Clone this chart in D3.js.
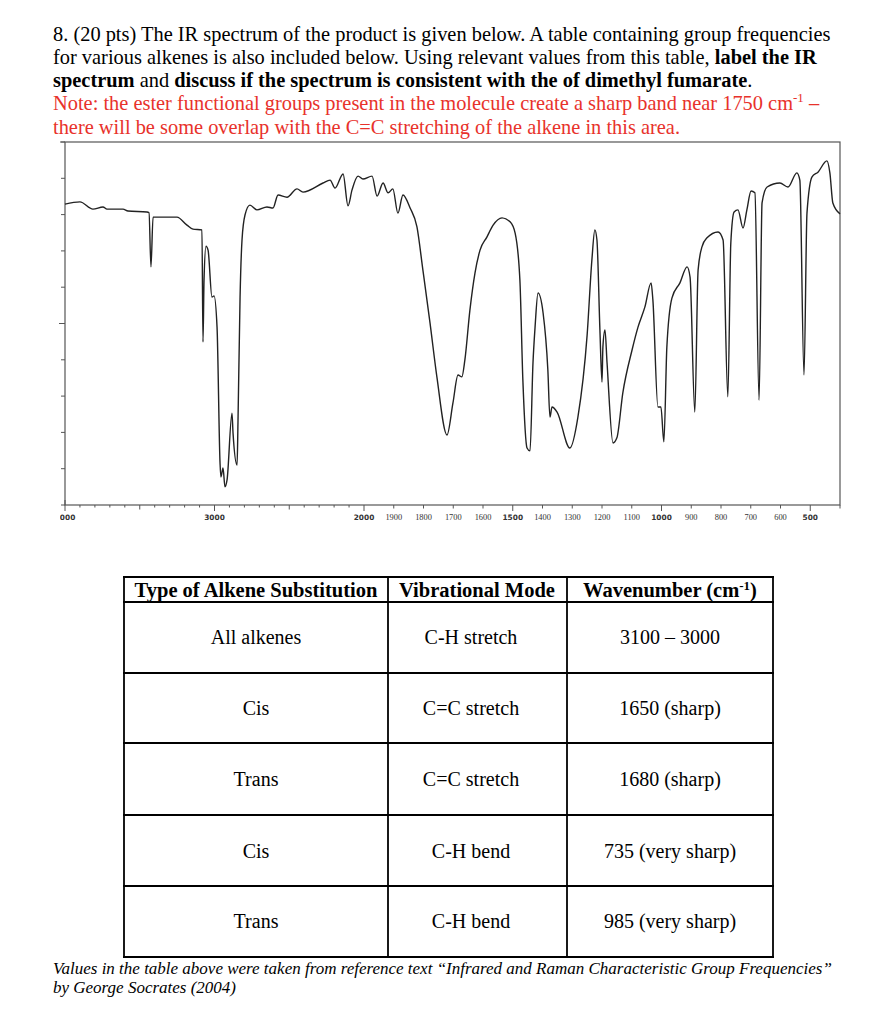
<!DOCTYPE html>
<html>
<head>
<meta charset="utf-8">
<script src="https://cdn.jsdelivr.net/npm/d3@7"></script>
<style>
  body { margin: 0; background: #fff; }
  text { font-family: "Liberation Serif", "Times New Roman", serif; }
</style>
</head>
<body>
<svg id="chart" width="872" height="1024"></svg>
<script>
// question text, one array of [text, bold] pieces per line
var questionLines = [
    [["8. (20 pts) The IR spectrum of the product is given below. A table containing group frequencies", false]],
    [["for various alkenes is also included below. Using relevant values from this table, ", false], ["label the IR", true]],
    [["spectrum", true], [" and ", false], ["discuss if the spectrum is consistent with the of dimethyl fumarate", true], [".", false]]
];
var noteLines = [
    "Note: the ester functional groups present in the molecule create a sharp band near 1750 cm",
    "there will be some overlap with the C=C stretching of the alkene in this area."
];

// spectrum: wavenumber (cm-1) and transmittance (%)
var wavenumber = [
    4000, 3900, 3813, 3746, 3719, 3612, 3579, 3452, 3438, 3425, 3411, 3365, 3251, 3184, 3144, 3084,
    3077, 3070, 3057, 3043, 3017, 3003, 2983, 2963, 2957, 2943, 2930, 2916, 2883, 2876, 2849, 2843,
    2829, 2816, 2796, 2763, 2716, 2649, 2609, 2575, 2515, 2448, 2408, 2274, 2227, 2194, 2140, 2107,
    2080, 2040, 2007, 1973, 1956, 1936, 1919, 1903, 1886, 1869, 1845, 1822, 1802, 1778, 1755, 1721,
    1701, 1684, 1671, 1661, 1644, 1627, 1610, 1587, 1566, 1536, 1509, 1492, 1476, 1466, 1452, 1442,
    1432, 1425, 1415, 1398, 1382, 1375, 1368, 1351, 1308, 1281, 1250, 1234, 1224, 1217, 1207, 1200,
    1197, 1190, 1183, 1163, 1150, 1130, 1099, 1079, 1056, 1035, 1029, 1012, 1002, 992, 982, 965,
    938, 914, 904, 888, 877, 864, 847, 810, 793, 777, 767, 756, 743, 726, 713, 699,
    686, 672, 662, 645, 602, 575, 545, 535, 521, 511, 494, 474, 444, 434, 424, 400
];
var transmittance = [
    82.9, 83.5, 81.5, 82.1, 81.5, 81.5, 81.0, 80.7, 80.5, 65.6, 79.3, 79.3, 79.3, 77.1, 76.0, 75.8,
    44.9, 62.0, 71.3, 70.2, 57.3, 57.6, 49.0, 11.6, 7.7, 10.2, 5.0, 6.9, 25.3, 19.8, 11.0, 22.6,
    57.3, 73.0, 79.9, 82.6, 81.3, 82.1, 81.8, 85.4, 84.8, 87.1, 86.2, 88.7, 89.5, 87.3, 91.2, 82.4,
    86.8, 90.6, 89.8, 90.6, 85.1, 88.7, 86.0, 87.1, 80.4, 85.4, 81.8, 76.6, 64.7, 50.1, 35.3, 19.3,
    28.1, 35.8, 35.3, 39.9, 53.7, 63.9, 70.2, 73.8, 77.1, 79.1, 78.0, 74.9, 62.0, 34.4, 15.7, 14.9,
    39.1, 49.0, 58.4, 52.9, 37.2, 24.2, 27.0, 25.6, 15.7, 24.2, 46.8, 67.5, 75.8, 73.0, 48.2, 33.9,
    43.5, 48.2, 39.1, 17.1, 18.5, 30.9, 42.7, 49.0, 54.5, 61.2, 56.5, 27.0, 27.0, 17.4, 43.5, 57.0,
    61.2, 65.6, 62.8, 25.6, 64.7, 71.1, 73.6, 75.2, 73.0, 29.8, 72.2, 80.7, 81.3, 76.3, 81.3, 86.5,
    86.0, 28.9, 83.2, 87.6, 88.7, 87.6, 91.5, 89.5, 35.8, 80.4, 90.4, 91.7, 94.8, 91.5, 83.2, 80.2
];

// x axis labels
var tickLabels = [4000, 3000, 2000, 1900, 1800, 1700, 1600, 1500, 1400, 1300, 1200, 1100, 1000, 900, 800, 700, 600, 500];
var boldLabels = [4000, 3000, 2000, 1500, 1000, 500];
var midTicks = [3500, 2500];

// group frequency table
var tableHeaders = ["Type of Alkene Substitution", "Vibrational Mode", "Wavenumber (cm"];
var substitution = ["All alkenes", "Cis", "Trans", "Cis", "Trans"];
var vibMode = ["C-H stretch", "C=C stretch", "C=C stretch", "C-H bend", "C-H bend"];
var wnRange = ["3100 \u2013 3000", "1650 (sharp)", "1680 (sharp)", "735 (very sharp)", "985 (very sharp)"];
var captionLines = [
    "Values in the table above were taken from reference text \u201cInfrared and Raman Characteristic Group Frequencies\u201d",
    "by George Socrates (2004)"
];

var svg = d3.select("#chart");
svg.append("rect").attr("width", 872).attr("height", 1024).attr("fill", "#fff");

/***************************
 * Question text
 ***************************/
var qFont = 20.4, lineGap = 23.3, textLeft = 53, firstBase = 40.5;
questionLines.forEach(function(parts, i) {
    var t = svg.append("text").attr("x", textLeft).attr("y", firstBase + i * lineGap)
        .attr("font-size", qFont).attr("fill", "#000");
    parts.forEach(function(p) {
        t.append("tspan").attr("font-weight", p[1] ? "bold" : "normal").text(p[0]);
    });
});
noteLines.forEach(function(line, i) {
    var t = svg.append("text").attr("x", textLeft).attr("y", firstBase + (i + 3) * lineGap)
        .attr("font-size", qFont).attr("fill", "#e8322b");
    t.append("tspan").text(line);
    if (i == 0) {
        t.append("tspan").attr("font-size", 13).attr("dy", -8).text("-1");
        t.append("tspan").attr("dy", 8).text(" \u2013");
    }
});

/***************************
 * Spectrum
 ***************************/
var x = d3.scaleLinear().domain([4000, 2000, 400]).range([65, 364, 840]);
var y = d3.scaleLinear().domain([0, 100]).range([505, 142]);
var frame = "#555";

var plot = svg.append("g");
plot.append("rect").attr("x", x(4000)).attr("y", y(100))
    .attr("width", x(400) - x(4000)).attr("height", y(0) - y(100))
    .attr("fill", "none").attr("stroke", frame).attr("stroke-width", 1.2);

// bottom ticks: every 100, longer at 500s / 1000s
var minor = d3.range(400, 4001, 100).filter(function(v) { return boldLabels.indexOf(v) < 0 && midTicks.indexOf(v) < 0; });
var ticks = plot.append("g").attr("stroke", frame).attr("stroke-width", 1);
ticks.selectAll(".minor").data(minor).enter().append("line")
    .attr("x1", x).attr("x2", x).attr("y1", y(0)).attr("y2", function(d) { return y(0) + (d > 2000 ? 2.5 : 3.5); });
ticks.selectAll(".mid").data(midTicks).enter().append("line")
    .attr("x1", x).attr("x2", x).attr("y1", y(0)).attr("y2", y(0) + 4.5);
ticks.selectAll(".major").data(boldLabels).enter().append("line")
    .attr("x1", x).attr("x2", x).attr("y1", function(d) { return d == 4000 ? y(0) - 5 : y(0); }).attr("y2", y(0) + 6);

// left ticks
var yTicks = d3.range(0, 101, 10);
ticks.selectAll(".ytick").data(yTicks).enter().append("line")
    .attr("x1", function(d) { return x(4000) - (d == 50 ? 6 : 4); }).attr("x2", x(4000))
    .attr("y1", y).attr("y2", y);
ticks.append("line").attr("x1", x(4000) - 5).attr("x2", x(4000)).attr("y1", y(100)).attr("y2", y(100));

// labels
svg.append("clipPath").attr("id", "lblclip").append("rect")
    .attr("x", 60).attr("y", 505).attr("width", 800).attr("height", 30);
var labels = svg.append("g").attr("clip-path", "url(#lblclip)");
labels.selectAll("text").data(tickLabels).enter().append("text")
    .attr("x", x).attr("y", 520).attr("text-anchor", "middle")
    .style("font-family", function(d) { return boldLabels.indexOf(d) >= 0 ? "'DejaVu Sans'" : "'Liberation Serif'"; })
    .attr("font-weight", function(d) { return boldLabels.indexOf(d) >= 0 ? "bold" : "normal"; })
    .attr("font-size", function(d) { return boldLabels.indexOf(d) >= 0 ? 7.4 : 8.4; })
    .attr("fill", "#333")
    .text(function(d) { return d; });

var line = d3.line().curve(d3.curveMonotoneX)
    .x(function(d) { return x(d[0]); }).y(function(d) { return y(d[1]); });
plot.append("path").datum(d3.zip(wavenumber, transmittance))
    .attr("d", line).attr("fill", "none").attr("stroke", "#222").attr("stroke-width", 1.4)
    .attr("stroke-linejoin", "round");

/***************************
 * Table
 ***************************/
var colX = [124, 388, 567, 773];
var rowY = [577, 602, 673, 743, 815, 886, 957];
var table = svg.append("g");
var tFont = 20, hFont = 20.5;

table.selectAll(".hline").data(rowY).enter().append("line")
    .attr("x1", colX[0] - 1).attr("x2", colX[3] + 1).attr("y1", function(d) { return d; }).attr("y2", function(d) { return d; })
    .attr("stroke", "#000").attr("stroke-width", 1.8);
table.selectAll(".vline").data(colX).enter().append("line")
    .attr("x1", function(d) { return d; }).attr("x2", function(d) { return d; })
    .attr("y1", rowY[0]).attr("y2", rowY[rowY.length - 1])
    .attr("stroke", "#000").attr("stroke-width", 1.8);

var colMid = [256, 477, 670];
tableHeaders.forEach(function(h, i) {
    var t = table.append("text").attr("x", colMid[i]).attr("y", 597).attr("text-anchor", "middle")
        .attr("font-size", hFont).attr("font-weight", "bold").text(h);
    if (i == 2) {
        t.append("tspan").attr("font-size", 13).attr("dy", -7).text("-1");
        t.append("tspan").attr("dy", 7).text(")");
    }
});
var textRowY = [644, 715, 786, 858, 928];
[substitution, vibMode, wnRange].forEach(function(col, c) {
    table.selectAll(".c" + c).data(col).enter().append("text")
        .attr("x", colMid[c] + (c == 1 ? -6 : 0)).attr("y", function(d, i) { return textRowY[i]; })
        .attr("text-anchor", "middle").attr("font-size", tFont)
        .text(function(d) { return d; });
});

captionLines.forEach(function(line, i) {
    svg.append("text").attr("x", textLeft).attr("y", 974 + i * 19)
        .attr("font-size", 17).attr("font-style", "italic").text(line);
});
</script>
</body>
</html>
